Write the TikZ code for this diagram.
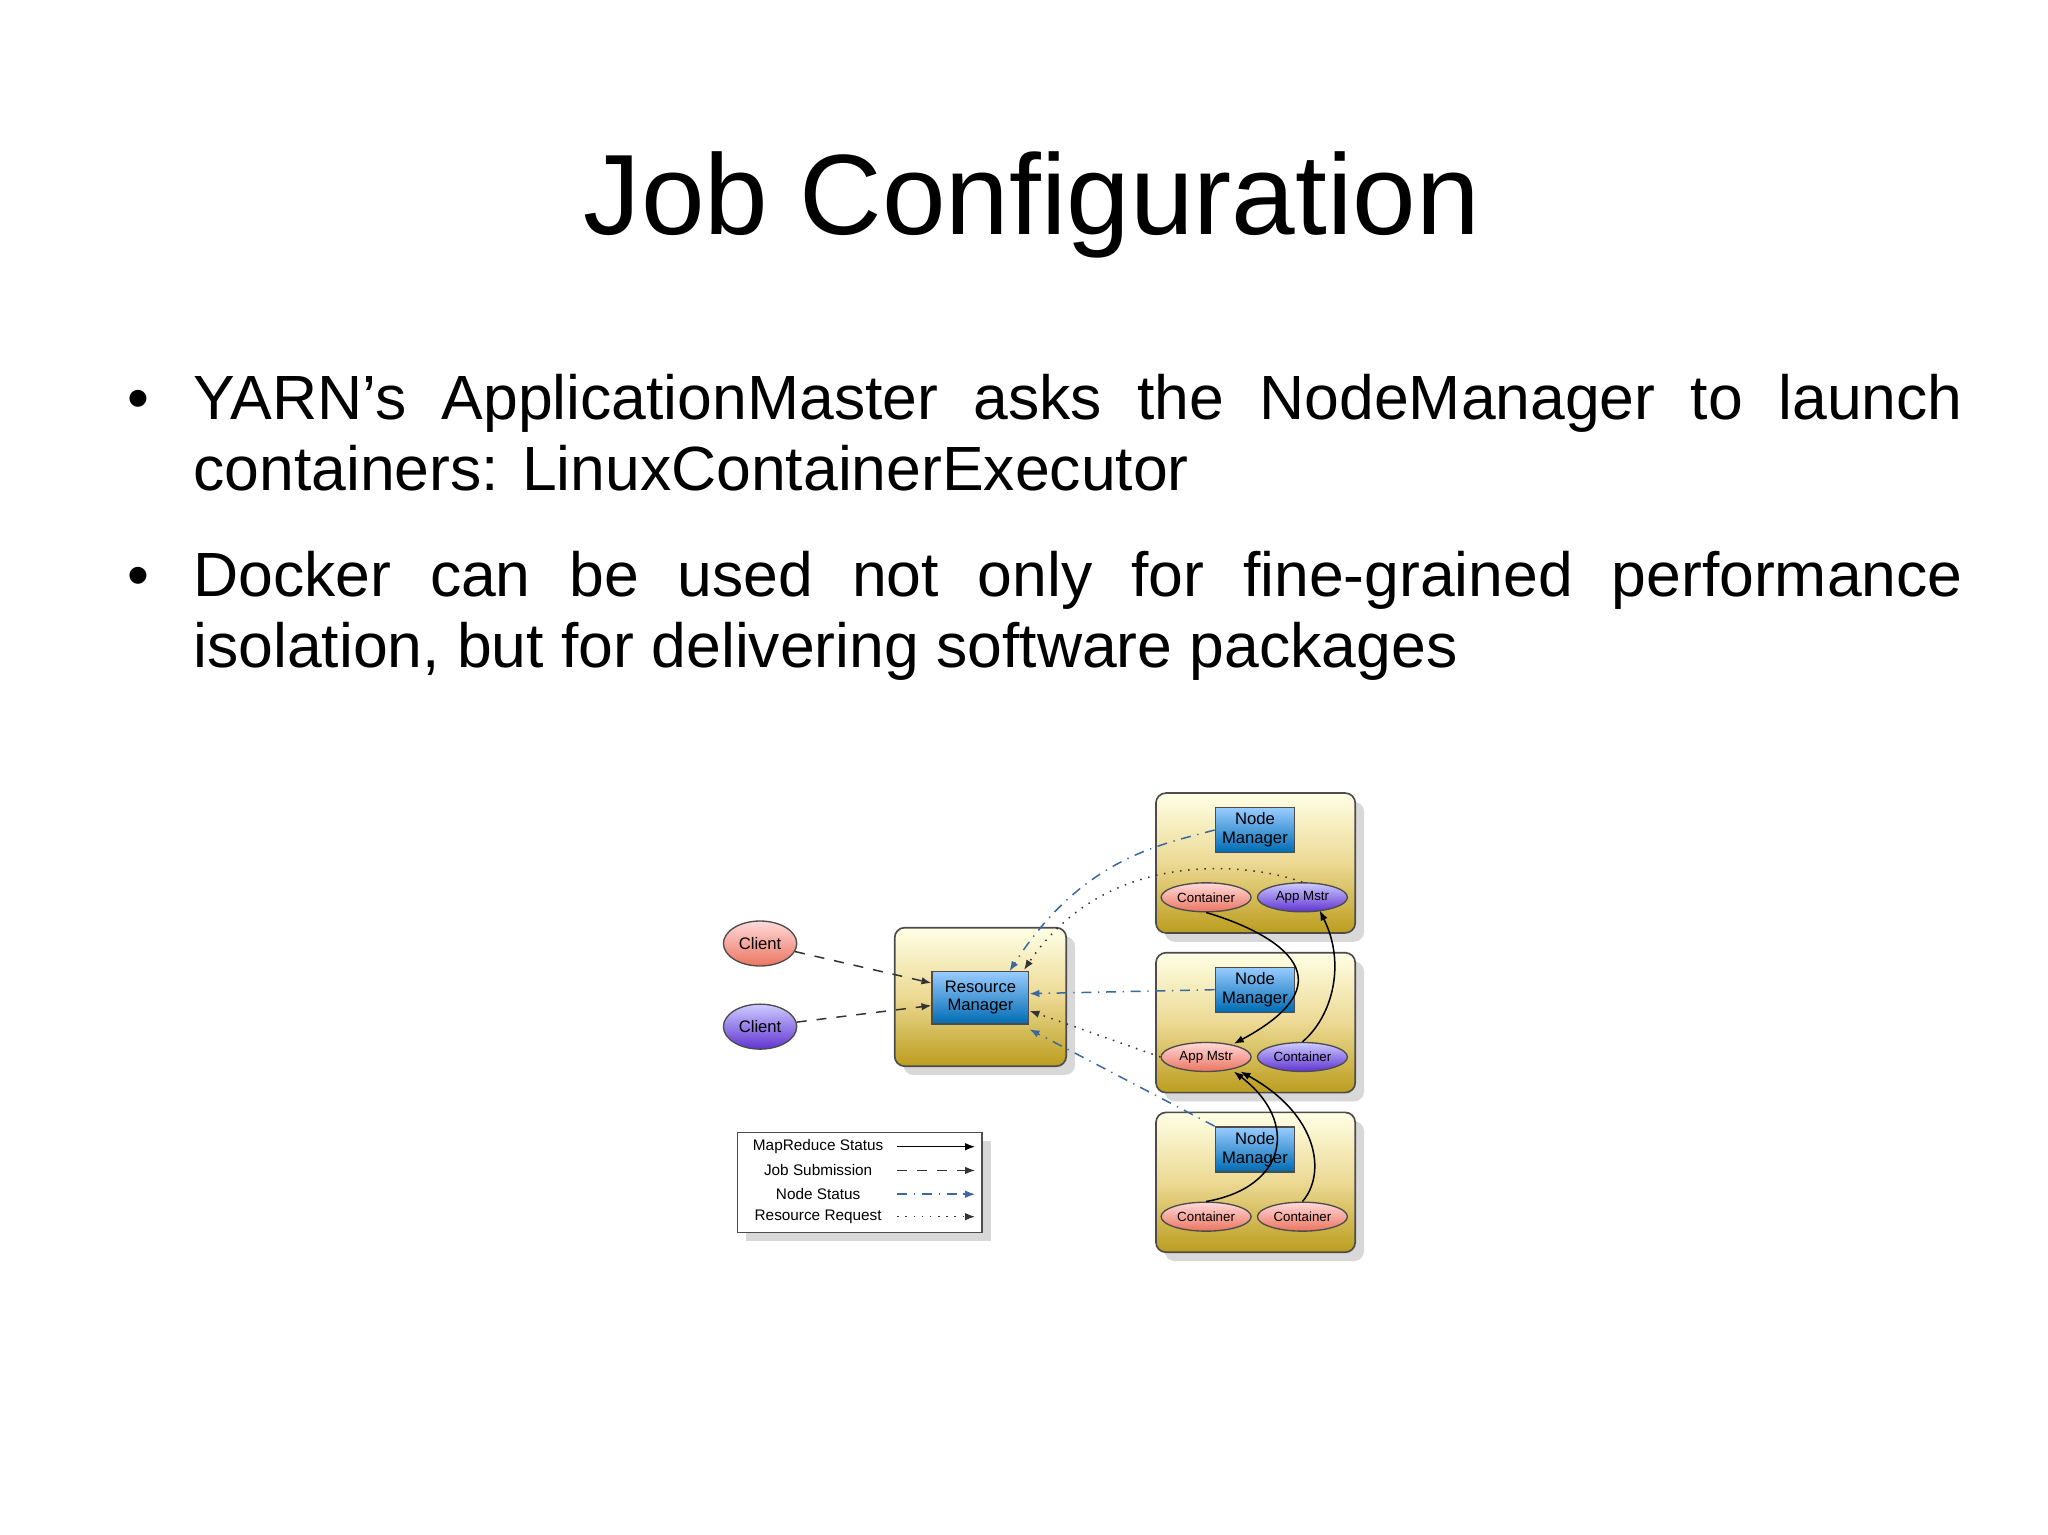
\documentclass[tikz,border=0pt]{standalone}
\usepackage{fontspec}
\setmainfont{Liberation Sans}
\usetikzlibrary{shadows,arrows.meta,shapes.geometric}
\begin{document}
\begin{tikzpicture}[x=0.396pt,y=-0.396pt,
 nmbox/.style={draw=black!70,line width=0.5pt,rounded corners=3pt,top color=white!90!yellow,bottom color=yellow!45!brown!85!black,middle color=yellow!40!brown!50!white,drop shadow={opacity=0.3}},
 inbox/.style={draw=black!70,line width=0.4pt,top color=cyan!50!blue!40!white,bottom color=cyan!60!blue!70!black,text=black,font=\fontsize{5}{5.6}\selectfont,align=center,inner sep=0pt},
 redell/.style={ellipse,draw=black!70,line width=0.4pt,top color=red!15!white,bottom color=red!55!brown!70!white,font=\fontsize{4}{4}\selectfont,inner sep=0pt},
 purell/.style={ellipse,draw=black!70,line width=0.4pt,top color=blue!20!white,bottom color=blue!55!violet!80!white,font=\fontsize{4}{4}\selectfont,inner sep=0pt},
 ms/.style={-{Latex[length=3pt]},line width=0.45pt,black},
 js/.style={-{Latex[length=3pt]},dashed,line width=0.45pt,black!80},
 ns/.style={-{Latex[length=3pt]},dash dot,line width=0.45pt,cyan!50!blue!75!black},
 rs/.style={-{Latex[length=3pt]},dotted,line width=0.45pt,black!80}]
\useasboundingbox (0,0) rectangle (1552,1163);
\fill[white] (0,0) rectangle (1552,1163);
\node[font=\fontsize{34.3}{40}\selectfont,anchor=base] (title) at (782,178) {Job Configuration};
\begin{scope}[every node/.style={font=\fontsize{18.75}{21}\selectfont,anchor=base west,inner sep=0pt}]
\node (b1) at (96,318) {•};
\node (l1) at (146,318) {\makebox[531pt][s]{YARN’s ApplicationMaster asks the NodeManager to launch}};
\node (l2) at (146,372) {containers: LinuxContainerExecutor};
\node (b2) at (96,452) {•};
\node (l3) at (146,452) {\makebox[531pt][s]{Docker can be used not only for fine-grained performance}};
\node (l4) at (146,506) {isolation, but for delivering software packages};
\end{scope}
% boxes
\draw[nmbox] (678,703) rectangle (808,808);
\foreach \y in {601,722,843} \draw[nmbox] (876,\y) rectangle (1027,\y+106);
\node[inbox,minimum width=29pt,minimum height=15.8pt] (rm) at (743,756) {Resource\\Manager};
\node[inbox,minimum width=23.8pt,minimum height=13.5pt] (nm1) at (951,629) {Node\\Manager};
\node[inbox,minimum width=23.8pt,minimum height=13.5pt] (nm2) at (951,750) {Node\\Manager};
\node[inbox,minimum width=23.8pt,minimum height=13.5pt] (nm3) at (951,871) {Node\\Manager};
\node[redell,minimum width=22pt,minimum height=13.5pt,font=\fontsize{5}{5}\selectfont] (c1) at (576,715) {Client};
\node[purell,minimum width=22pt,minimum height=13.5pt,font=\fontsize{5}{5}\selectfont] (c2) at (576,778) {Client};
\node[redell,minimum width=27pt,minimum height=8.7pt] (tc) at (914,680) {Container};
\node[purell,minimum width=27pt,minimum height=8.7pt] (ta) at (987,680) {App Mstr};
\node[redell,minimum width=27pt,minimum height=8.7pt] (ma) at (914,801) {App Mstr};
\node[purell,minimum width=27pt,minimum height=8.7pt] (mc) at (987,801) {Container};
\node[redell,minimum width=27pt,minimum height=8.7pt] (bc1) at (914,922) {Container};
\node[redell,minimum width=27pt,minimum height=8.7pt] (bc2) at (987,922) {Container};
% connectors
\draw[js] (c1) -- (rm.west |- 0,745);
\draw[js] (c2) -- (rm.west |- 0,762);
\draw[ns] (nm1.west) .. controls (880,640) and (820,650) .. (765,736);
\draw[rs] (ta.north) .. controls (950,655) and (840,640) .. (776,735);
\draw[ns] (nm2.west) -- (rm.east |- 0,753);
\draw[rs] (ma.west) -- (rm.east |- 0,766);
\draw[ns] (nm3.north west) -- (rm.east |- 0,780);
\draw[ms] (tc.south) .. controls (960,705) and (1030,740) .. (935,791);
\draw[ms] (mc.north) .. controls (1010,770) and (1020,730) .. (1000,690);
\draw[ms] (bc1.north) .. controls (975,900) and (985,850) .. (935,812);
\draw[ms] (bc2.north) .. controls (1005,890) and (1000,845) .. (940,812);
% legend
\node[draw=black!70,fill=white,line width=0.5pt,minimum width=73.3pt,minimum height=30pt,drop shadow={opacity=0.3}] (leg) at (651.5,896) {};
\begin{scope}[every node/.style={font=\fontsize{4.6}{5}\selectfont,inner sep=0pt}]
\node (t1) at (620,869) {MapReduce Status};
\node (t2) at (620,887) {Job Submission};
\node (t3) at (620,905) {Node Status};
\node (t4) at (620,922) {Resource Request};
\end{scope}
\coordinate (a1) at (680,869); \coordinate (e1) at (739,869);
\coordinate (a2) at (680,887); \coordinate (e2) at (739,887);
\coordinate (a3) at (680,905); \coordinate (e3) at (739,905);
\coordinate (a4) at (680,922); \coordinate (e4) at (739,922);
\draw[ms] (a1) -- (e1);
\draw[js] (a2) -- (e2);
\draw[ns] (a3) -- (e3);
\draw[rs] (a4) -- (e4);
\end{tikzpicture}
\end{document}
